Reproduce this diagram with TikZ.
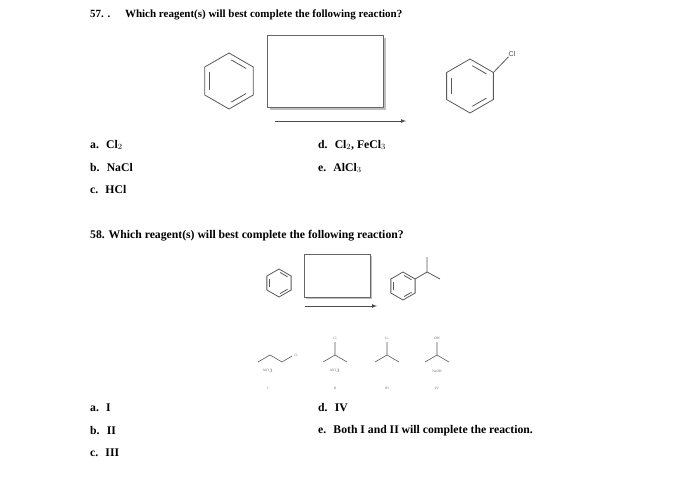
\documentclass[tikz,border=0pt]{standalone}
\usepackage{fontspec}
\usetikzlibrary{calc}
\setmainfont{Liberation Serif}
\newfontfamily\arialf{Liberation Sans}
\begin{document}
\begin{tikzpicture}[x=1pt,y=-1pt,
  txt/.style={anchor=west,inner sep=0,font=\fontsize{11.7}{12}\selectfont\bfseries},
  bond/.style={draw=black!65,line width=0.8pt},
  tiny/.style={inner sep=0,font=\fontsize{3.5}{4}\selectfont,text=black!60},
  rbox/.style={draw=black!60,line width=0.9pt,fill=white},
  arr/.style={draw=black!70,line width=0.7pt,-latex}]
\useasboundingbox[fill=white] (0,0) rectangle (700,481);
\def\benz#1#2#3{%
  \begin{scope}[shift={(#1,#2)}]
  \draw[bond] (90:#3) -- (30:#3) -- (-30:#3) -- (-90:#3) -- (-150:#3) -- (150:#3) -- cycle;
  \draw[bond] ($(30:0.8*#3)!0.12!(90:0.8*#3)$) -- ($(90:0.8*#3)!0.12!(30:0.8*#3)$);
  \draw[bond] ($(-30:0.8*#3)!0.12!(-90:0.8*#3)$) -- ($(-90:0.8*#3)!0.12!(-30:0.8*#3)$);
  \draw[bond] ($(150:0.8*#3)!0.12!(210:0.8*#3)$) -- ($(210:0.8*#3)!0.12!(150:0.8*#3)$);
  \end{scope}}
% 57
\node[txt,font=\fontsize{11}{12}\selectfont\bfseries] (q57) at (90,15) {57. . \quad Which reagent(s) will best complete the following reaction?};
\benz{229}{81}{28}
\fill[black!25] (270,38) rectangle (386,110);
\draw[rbox] (267,35) rectangle (383,107);
\coordinate (a1) at (275,121); \coordinate (a2) at (406,121);
\draw[arr] (a1) -- (a2);
\benz{470}{86}{27}
\coordinate (c1) at (493.4,72.5);
\node[inner sep=0,font=\arialf\fontsize{7}{8}\selectfont,text=black!70] (cl) at (512,54) {Cl};
\draw[bond] (c1) -- (cl.south west);
\node[txt] (a57) at (90,145) {a.\; Cl$_2$};
\node[txt] (b57) at (90,168) {b.\; NaCl};
\node[txt] (c57) at (90,190) {c.\; HCl};
\node[txt] (d57) at (318,145) {d.\; Cl$_2$, FeCl$_3$};
\node[txt] (e57) at (318,168) {e.\; AlCl$_3$};
% 58
\node[txt] (q58) at (90,236) {58. Which reagent(s) will best complete the following reaction?};
\benz{279}{283}{14}
\fill[black!25] (306,256) rectangle (372,299);
\draw[rbox] (304,254) rectangle (370,297);
\coordinate (b1) at (305,306); \coordinate (b2) at (377,306);
\draw[arr] (b1) -- (b2);
\benz{403}{286}{14}
\coordinate (p0) at (415.1,279); \coordinate (p1) at (427,272);
\draw[bond] (p0) -- (p1) -- (427,257) (p1) -- (440,279);
% reagents
\draw[bond,line width=0.6pt] (258,362) -- (270,355) -- (282,362) -- (292,356);
\node[tiny] (l1) at (296,355) {Cl};
\foreach \x/\s in {335/Cl,387/Li,437/OH}{
  \draw[bond,line width=0.6pt] (\x-12,362) -- (\x,355) -- (\x+12,362) (\x,355) -- (\x,342);
  \node[tiny] at (\x,338) {\s};}
\node[tiny] (r1) at (268,371) {AlCl$_3$};
\node[tiny] (r2) at (335,371) {AlCl$_3$};
\node[tiny] (r4) at (437,371) {NaOH};
\node[tiny] at (268,388) {I};
\node[tiny] at (335,388) {II};
\node[tiny] at (387,388) {III};
\node[tiny] at (437,388) {IV};
\node[txt] (a58) at (90,408) {a.\; I};
\node[txt] (b58) at (90,431) {b.\; II};
\node[txt] (c58) at (90,453) {c.\; III};
\node[txt] (d58) at (318,408) {d.\; IV};
\node[txt] (e58) at (318,431) {e.\; Both I and II will complete the reaction.};
\end{tikzpicture}
\end{document}
